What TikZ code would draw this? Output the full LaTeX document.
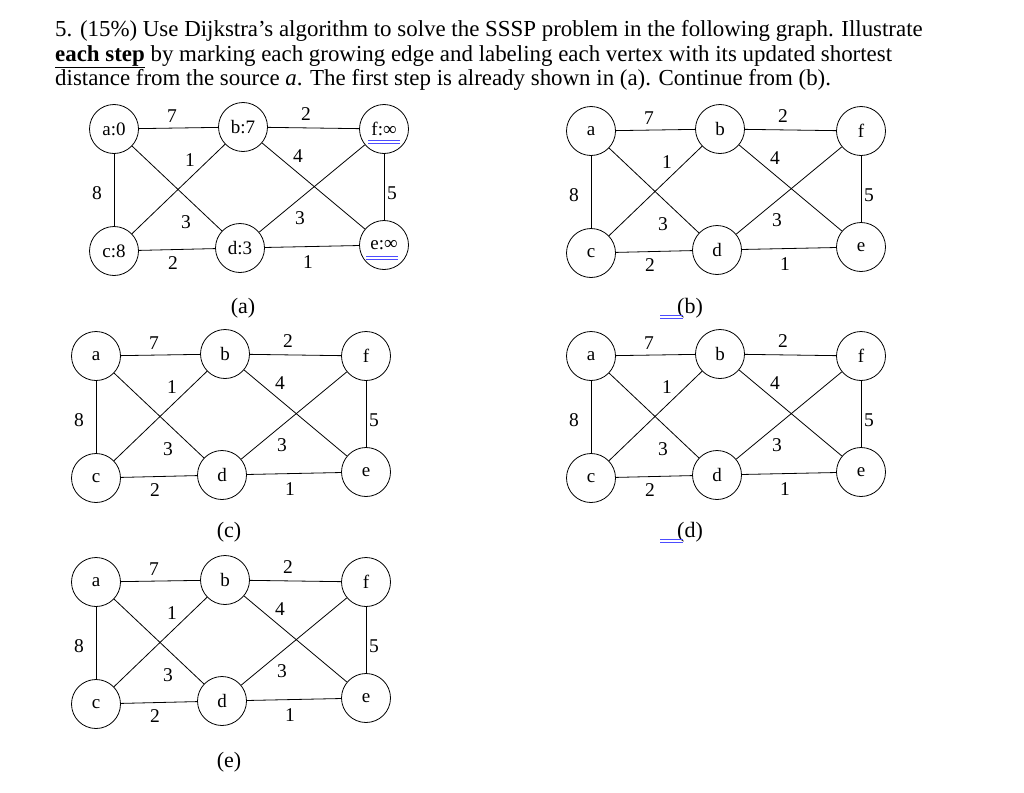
\documentclass[tikz,border=0pt]{standalone}
\usepackage{fontspec}
\setmainfont{Liberation Serif}
\tikzset{vert/.style={draw,circle,minimum size=49pt,inner sep=0pt,line width=0.8pt,font=\fontsize{19}{19}\selectfont},
 wlab/.style={font=\fontsize{19.5}{19.5}\selectfont,inner sep=0pt},
 edge/.style={line width=0.8pt},
 captxt/.style={font=\fontsize{22}{22}\selectfont}}
\newcommand{\spellul}[2]{\draw[blue!70,line width=0.6pt] (#1,#2) -- ++(32,0) (#1,#2+3) -- ++(32,0);}
\newcommand{\graphat}[9]{%
\begin{scope}[shift={(#1,#2)}]
\node[vert] (#3a) at (0,0) {#4};
\node[vert] (#3b) at (129,-2) {#5};
\node[vert] (#3f) at (270,0) {#6};
\node[vert] (#3c) at (0,122) {#7};
\node[vert] (#3d) at (126,119) {#8};
\node[vert] (#3e) at (270,116) {#9};
\draw[edge] (#3a) -- (#3b);
\draw[edge] (#3b) -- (#3f);
\draw[edge] (#3a) -- (#3c);
\draw[edge] (#3f) -- (#3e);
\draw[edge] (#3c) -- (#3d);
\draw[edge] (#3d) -- (#3e);
\draw[edge] (#3a) -- (#3d);
\draw[edge] (#3c) -- (#3b);
\draw[edge] (#3b) -- (#3e);
\draw[edge] (#3d) -- (#3f);
\node[wlab] (#3w1) at (58,-13) {7};
\node[wlab] (#3w2) at (192,-15) {2};
\node[wlab] (#3w3) at (-17,64) {8};
\node[wlab] (#3w4) at (278,64) {5};
\node[wlab] (#3w5) at (59,134) {2};
\node[wlab] (#3w6) at (194,133) {1};
\node[wlab] (#3w7) at (76,31) {1};
\node[wlab] (#3w8) at (72,93) {3};
\node[wlab] (#3w9) at (184,27) {4};
\node[wlab] (#3w10) at (186,89) {3};
\end{scope}}
\begin{document}
\begin{tikzpicture}[x=1pt,y=-1pt]
\useasboundingbox (0,0) rectangle (1024,792);
\begin{scope}[font=\fontsize{22.9}{22.9}\selectfont]
\node[anchor=base west,inner sep=0pt] (t1) at (55,37) {5. (15\%) Use Dijkstra’s algorithm to solve the SSSP problem in the following graph. Illustrate};
\node[anchor=base west,inner sep=0pt] (t2) at (55,61) {\underline{\textbf{each step}} by marking each growing edge and labeling each vertex with its updated shortest};
\node[anchor=base west,inner sep=0pt] (t3) at (55,85) {distance from the source \textit{a}. The first step is already shown in (a). Continue from (b).};
\end{scope}
\graphat{114}{129}{A}{a:0}{b:7}{f:∞}{c:8}{d:3}{e:∞}
\spellul{368}{140}
\spellul{366}{256}
\graphat{591}{131}{B}{a}{b}{f}{c}{d}{e}
\graphat{96}{356}{C}{a}{b}{f}{c}{d}{e}
\graphat{591}{356}{D}{a}{b}{f}{c}{d}{e}
\graphat{96}{582}{E}{a}{b}{f}{c}{d}{e}
\node[captxt] (ca) at (243,308) {(a)};
\node[captxt] (cb) at (690,308) {(b)};
\node[captxt] (cc) at (229,532) {(c)};
\node[captxt] (cd) at (690,532) {(d)};
\node[captxt] (ce) at (229,762) {(e)};
\draw[blue!70,line width=0.6pt] (660,315) -- (683,315) (660,318) -- (683,318);
\draw[blue!70,line width=0.6pt] (660,539) -- (683,539) (660,542) -- (683,542);
\end{tikzpicture}
\end{document}
